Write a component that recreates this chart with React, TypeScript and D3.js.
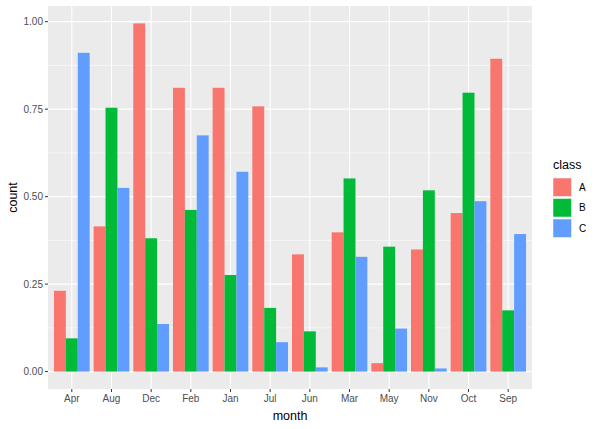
import React from "react";
import * as d3 from "d3";

const months = ["Apr", "Aug", "Dec", "Feb", "Jan", "Jul", "Jun", "Mar", "May", "Nov", "Oct", "Sep"];
const classes = ["A", "B", "C"];
const valuesA = [0.231, 0.415, 0.995, 0.811, 0.811, 0.758, 0.335, 0.398, 0.024, 0.349, 0.453, 0.894];
const valuesB = [0.095, 0.754, 0.381, 0.462, 0.276, 0.182, 0.115, 0.552, 0.357, 0.518, 0.797, 0.175];
const valuesC = [0.911, 0.525, 0.136, 0.675, 0.571, 0.084, 0.012, 0.328, 0.123, 0.009, 0.487, 0.393];
const yTicks = [0, 0.25, 0.5, 0.75, 1.0];
const yMinor = [0.125, 0.375, 0.625, 0.875];
const colors = ["#F8766D", "#00BA38", "#619CFF"];

export default function App() {
  const W = 600, H = 429;
  const pL = 48, pR = 532, pT = 6, pB = 389;
  const series = [valuesA, valuesB, valuesC];
  const maxV = d3.max(series.flat()) as number;
  const y = d3.scaleLinear().domain([-0.05 * maxV, 1.05 * maxV]).range([pB, pT]);
  const x = d3.scaleBand<string>().domain(months).range([pL, pR]).paddingInner(0.1).paddingOuter(0.15);
  const xi = d3.scaleBand<string>().domain(classes).range([0, x.bandwidth()]);
  const centers = months.map((m) => (x(m) as number) + x.bandwidth() / 2);
  const tickFont = "Liberation Sans, Arial, sans-serif";
  return (
    <svg width={W} height={H} style={{ position: "absolute", left: 0, top: 0, background: "#fff" }} fontFamily={tickFont}>
      <rect x={pL} y={pT} width={pR - pL} height={pB - pT} fill="#EBEBEB" />
      {yMinor.map((t) => (
        <line key={"mn" + t} x1={pL} x2={pR} y1={y(t)} y2={y(t)} stroke="#fff" strokeWidth={0.55} />
      ))}
      {yTicks.map((t) => (
        <line key={"mj" + t} x1={pL} x2={pR} y1={y(t)} y2={y(t)} stroke="#fff" strokeWidth={1.1} />
      ))}
      {centers.map((c, i) => (
        <line key={"vx" + i} x1={c} x2={c} y1={pT} y2={pB} stroke="#fff" strokeWidth={1.1} />
      ))}
      {months.map((m, i) =>
        series.map((s, k) => (
          <rect
            key={m + k}
            x={(x(m) as number) + (xi(classes[k]) as number)}
            y={y(s[i])}
            width={xi.bandwidth()}
            height={y(0) - y(s[i])}
            fill={colors[k]}
          />
        ))
      )}
      {yTicks.map((t) => (
        <g key={"yt" + t}>
          <line x1={pL - 3} x2={pL} y1={y(t)} y2={y(t)} stroke="#333" strokeWidth={1} />
          <text x={pL - 5} y={y(t)} dy="0.35em" textAnchor="end" fontSize={10} fill="#4D4D4D">
            {t.toFixed(2)}
          </text>
        </g>
      ))}
      {months.map((m, i) => (
        <g key={"xt" + m}>
          <line x1={centers[i]} x2={centers[i]} y1={pB} y2={pB + 3} stroke="#333" strokeWidth={1} />
          <text x={centers[i]} y={pB + 13} textAnchor="middle" fontSize={10} fill="#4D4D4D">
            {m}
          </text>
        </g>
      ))}
      <text x={(pL + pR) / 2} y={420} textAnchor="middle" fontSize={12.5} fill="#000">
        month
      </text>
      <text transform={`translate(17,${(pT + pB) / 2}) rotate(-90)`} textAnchor="middle" fontSize={12.5} fill="#000">
        count
      </text>
      <text x={553} y={169} fontSize={12.5} fill="#000">
        class
      </text>
      {classes.map((c, k) => (
        <g key={"lg" + c}>
          <rect x={553} y={178 + k * 20.5} width={18.5} height={18.5} fill={colors[k]} stroke="#fff" strokeWidth={0.5} />
          <text x={579} y={178 + k * 20.5 + 9.25} dy="0.35em" fontSize={10} fill="#000">
            {c}
          </text>
        </g>
      ))}
    </svg>
  );
}
